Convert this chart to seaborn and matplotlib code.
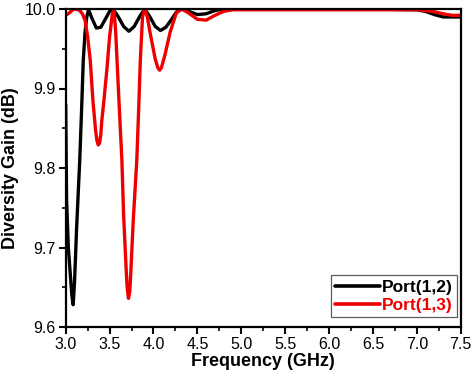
import numpy as np
import pandas as pd
import matplotlib
matplotlib.use("Agg")
import matplotlib.pyplot as plt
from matplotlib.ticker import MultipleLocator
import seaborn as sns

# ---- data ----
freq_12 = [3.00, 3.01, 3.03, 3.05, 3.07, 3.085, 3.10, 3.125, 3.16, 3.18, 3.20, 3.22, 3.24, 3.26,
           3.30, 3.35, 3.40, 3.45, 3.50, 3.54, 3.60, 3.66, 3.72, 3.78, 3.84, 3.90, 3.96, 4.02,
           4.08, 4.14, 4.20, 4.26, 4.32, 4.40, 4.50, 4.60, 4.70, 4.80, 5.00, 5.50, 6.00, 6.50,
           7.00, 7.10, 7.20, 7.30, 7.40, 7.50]
gain_12 = [9.880, 9.760, 9.700, 9.670, 9.640, 9.628, 9.655, 9.726, 9.810, 9.870, 9.935, 9.970,
           9.990, 9.999, 9.988, 9.976, 9.977, 9.987, 9.997, 10.000, 9.990, 9.978, 9.972, 9.978,
           9.990, 10.000, 9.990, 9.978, 9.973, 9.977, 9.986, 9.996, 10.000, 9.997, 9.993, 9.994,
           9.998, 10.000, 10.000, 10.000, 10.000, 10.000, 9.999, 9.997, 9.993, 9.990, 9.990, 9.990]

freq_13 = [3.00, 3.04, 3.08, 3.12, 3.16, 3.19, 3.22, 3.25, 3.28, 3.31, 3.34, 3.355, 3.37, 3.385,
           3.40, 3.41, 3.44, 3.47, 3.50, 3.53, 3.55, 3.57, 3.60, 3.64, 3.66, 3.69, 3.70, 3.715,
           3.73, 3.74, 3.77, 3.81, 3.83, 3.85, 3.875, 3.90, 3.93, 3.96, 4.02, 4.05, 4.07, 4.09,
           4.13, 4.19, 4.26, 4.32, 4.40, 4.50, 4.60, 4.70, 4.80, 4.90, 5.00, 5.50, 6.00, 6.50,
           7.00, 7.18, 7.30, 7.40, 7.50]
gain_13 = [9.992, 9.995, 9.999, 10.000, 9.998, 9.994, 9.986, 9.965, 9.935, 9.885, 9.848, 9.835,
           9.829, 9.831, 9.842, 9.858, 9.890, 9.925, 9.965, 9.993, 10.000, 9.970, 9.900, 9.810,
           9.740, 9.670, 9.650, 9.636, 9.645, 9.665, 9.735, 9.810, 9.870, 9.935, 9.990, 10.000,
           9.990, 9.971, 9.937, 9.926, 9.923, 9.926, 9.942, 9.971, 9.995, 10.000, 9.995, 9.987,
           9.986, 9.992, 9.997, 9.999, 9.999, 9.999, 9.999, 9.999, 9.999, 9.997, 9.994, 9.992,
           9.992]

series_names = ["Port(1,2)", "Port(1,3)"]
series_colors = ["black", "#ee0000"]

x_ticks = [3.0, 3.5, 4.0, 4.5, 5.0, 5.5, 6.0, 6.5, 7.0, 7.5]
y_ticks = [9.6, 9.7, 9.8, 9.9, 10.0]

df = pd.concat([
    pd.DataFrame({"Frequency": freq_12, "Gain": gain_12, "Series": series_names[0]}),
    pd.DataFrame({"Frequency": freq_13, "Gain": gain_13, "Series": series_names[1]}),
], ignore_index=True)

sns.set_style("ticks")
plt.rcParams["font.family"] = ["Liberation Sans", "DejaVu Sans"]
plt.rcParams["text.color"] = "black"
plt.rcParams["axes.labelcolor"] = "black"
plt.rcParams["xtick.color"] = "black"
plt.rcParams["ytick.color"] = "black"

fig = plt.figure(figsize=(4.74, 3.79), dpi=100)
ax = fig.add_axes([65.7 / 474, 1 - 327 / 379, 395 / 474, 318 / 379])

sns.lineplot(data=df, x="Frequency", y="Gain", hue="Series",
             palette=dict(zip(series_names, series_colors)),
             linewidth=2.4, sort=True, estimator=None, ax=ax)

ax.set_xlim(3.0, 7.5)
ax.set_ylim(9.6, 10.0)
ax.set_xticks(x_ticks)
ax.set_yticks(y_ticks)
ax.set_xticklabels([f"{t:.1f}" for t in x_ticks])
ax.set_yticklabels([f"{t:.1f}" for t in y_ticks])
ax.xaxis.set_minor_locator(MultipleLocator(0.25))
ax.yaxis.set_minor_locator(MultipleLocator(0.05))
ax.tick_params(axis="both", which="major", direction="out", length=5, width=1.5,
               labelsize=11.5, colors="black", labelcolor="black", pad=2)
ax.tick_params(axis="both", which="minor", direction="out", length=3, width=1.2, colors="black")
ax.tick_params(top=False, right=False)

for s in ax.spines.values():
    s.set_visible(True)
    s.set_linewidth(1.6)
    s.set_color("black")

ax.set_xlabel("Frequency (GHz)", fontsize=13, fontweight="bold", labelpad=1, color="black")
ax.set_ylabel("Diversity Gain (dB)", fontsize=13, fontweight="bold", labelpad=4, color="black")

leg = ax.legend(loc="lower right", bbox_to_anchor=(1 - 3.7 / 395, 10 / 318),
                borderaxespad=0, frameon=True, fancybox=False, edgecolor="#333333",
                prop={"weight": "bold", "size": 12.5}, handlelength=2.6,
                handletextpad=0.1, borderpad=0.25, labelspacing=0.15)
leg.get_frame().set_linewidth(0.9)
for line in leg.get_lines():
    line.set_linewidth(2.6)
for txt, col in zip(leg.get_texts(), series_colors):
    txt.set_color(col)

fig.savefig("out.png", dpi=100)
